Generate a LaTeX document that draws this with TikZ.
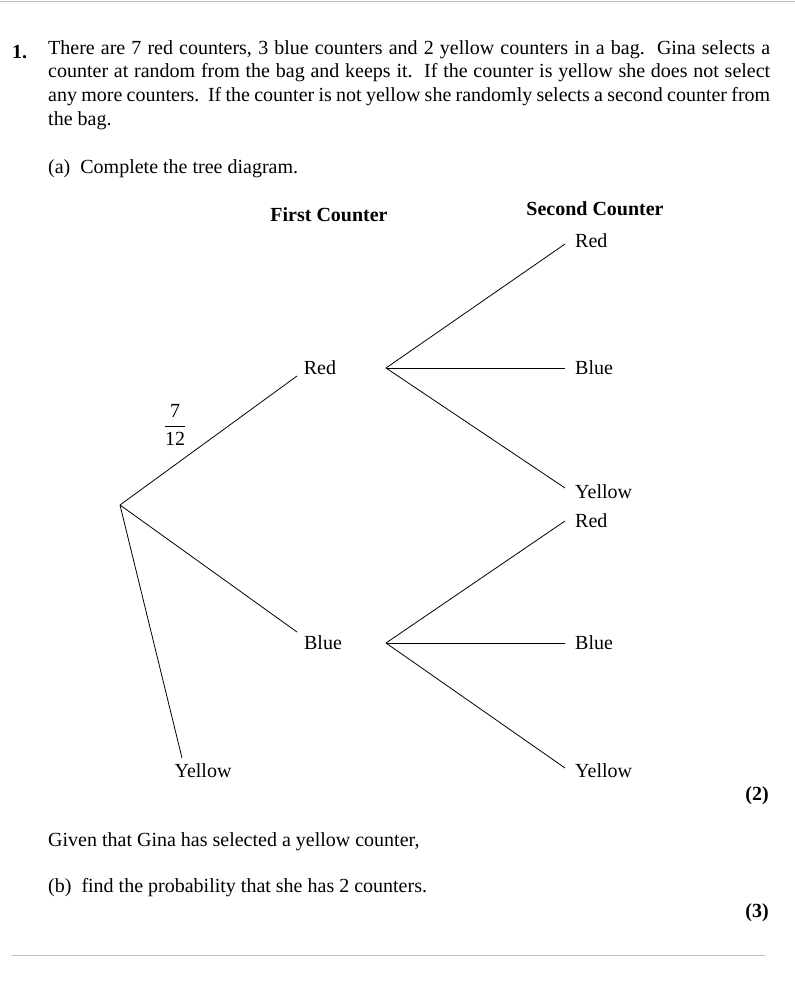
\documentclass[tikz,border=0pt]{standalone}
\usepackage{fontspec}
\setmainfont{Liberation Serif}
\begin{document}
\begin{tikzpicture}[x=1pt,y=-1pt,
  txt/.style={font=\fontsize{20}{23.7}\selectfont, inner sep=0pt},
  hd/.style={txt, font=\fontsize{20}{24}\selectfont\bfseries},
  br/.style={line width=0.8pt, black},
  rule/.style={gray!50, line width=0.8pt}]
\useasboundingbox (0,0) rectangle (795,983);
\coordinate (t1) at (0,1); \coordinate (t2) at (795,1);
\draw[rule] (t1) -- (t2);
\coordinate (b1) at (12,955); \coordinate (b2) at (765,955);
\draw[rule] (b1) -- (b2);
\node[hd, anchor=west] (num) at (12,52) {1.};
\node[txt, anchor=north west, text width=722pt, align=justify] (q) at (48,40)
 {There are 7 red counters, 3 blue counters and 2 yellow counters in a bag.\ \ Gina selects a counter at random from the bag and keeps it.\ \ If the counter is yellow she does not select any more counters.\ \ If the counter is not yellow she randomly selects a second counter from the bag.};
\node[txt, anchor=west] (pa) at (48,169) {(a)\ \ Complete the tree diagram.};
\node[hd] (h1) at (329,215) {First Counter};
\node[hd] (h2) at (595,209) {Second Counter};
% first level
\coordinate (root) at (120,505);
\coordinate (rE) at (297,376);
\coordinate (bE) at (297,632);
\coordinate (yE) at (182,758);
\draw[br] (root) -- (rE);
\draw[br] (root) -- (bE);
\draw[br] (root) -- (yE);
\node[txt] (R1) at (320,368) {Red};
\node[txt] (B1) at (323,643) {Blue};
\node[txt] (Y1) at (203,771) {Yellow};
\node[txt] (f) at (175,425) {$\displaystyle\frac{\mathrm{7}}{\mathrm{12}}$};
% second level
\coordinate (rS) at (386,368);
\coordinate (rr) at (565,244); \coordinate (rb) at (565,368); \coordinate (ry) at (565,488);
\draw[br] (rS) -- (rr); \draw[br] (rS) -- (rb); \draw[br] (rS) -- (ry);
\coordinate (bS) at (386,643);
\coordinate (br2) at (565,521); \coordinate (bb) at (565,643); \coordinate (by) at (565,768);
\draw[br] (bS) -- (br2); \draw[br] (bS) -- (bb); \draw[br] (bS) -- (by);
\node[txt,anchor=west] (R2a) at (575,241) {Red};
\node[txt,anchor=west] (B2a) at (575,368) {Blue};
\node[txt,anchor=west] (Y2a) at (575,492) {Yellow};
\node[txt,anchor=west] (R2b) at (575,521) {Red};
\node[txt,anchor=west] (B2b) at (575,643) {Blue};
\node[txt,anchor=west] (Y2b) at (575,771) {Yellow};
\node[hd] (m2) at (757,796) {(2)};
\node[txt, anchor=west] (g) at (48,842) {Given that Gina has selected a yellow counter,};
\node[txt, anchor=west] (pb) at (48,888) {(b)\ \ find the probability that she has 2 counters.};
\node[hd] (m3) at (757,913) {(3)};
\end{tikzpicture}
\end{document}
